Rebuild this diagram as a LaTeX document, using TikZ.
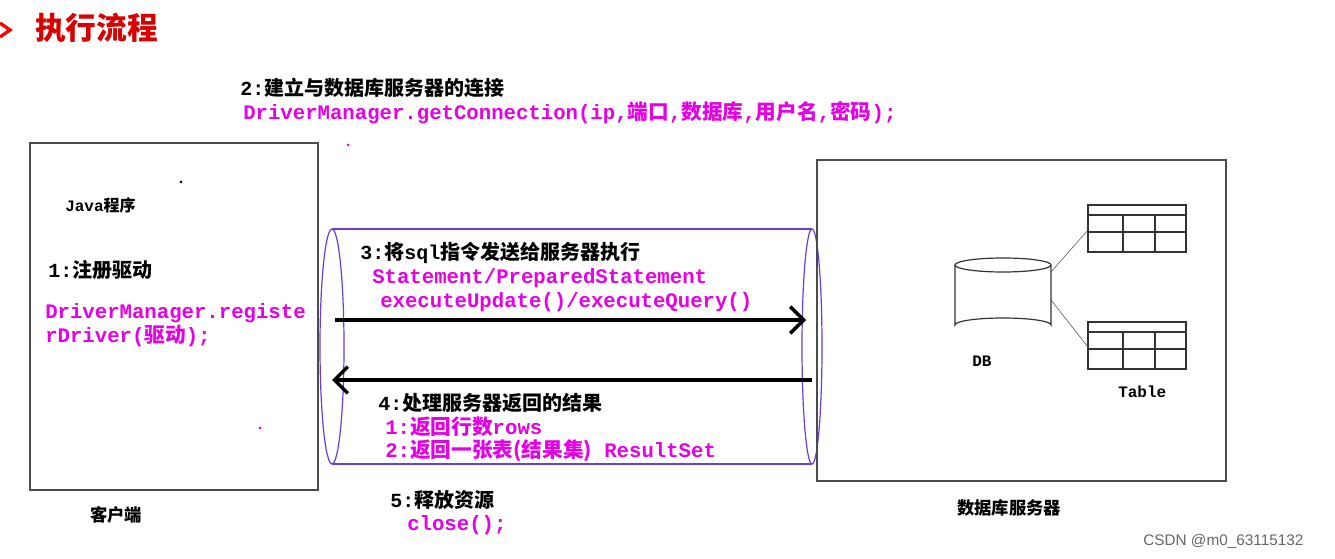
\documentclass[tikz,border=0pt]{standalone}
\usepackage{fontspec}
\setmonofont{Liberation Mono}
\setmainfont{Liberation Sans}
\newfontfamily\zh{Noto Sans CJK SC}
\usetikzlibrary{arrows.meta}
\definecolor{mag}{RGB}{230,0,230}
\definecolor{pipe}{RGB}{110,60,220}
\tikzset{
 lbl/.style={anchor=west,inner sep=0pt,font=\ttfamily\bfseries\fontsize{15}{17}\selectfont},
 code/.style={lbl,text=mag,font=\ttfamily\bfseries\fontsize{15.5}{17}\selectfont},
 box/.style={draw=black!70,line width=1pt},
 big/.style={-{Straight Barb[length=10pt,width=20pt,line width=2.6pt]},line width=3pt},
 thin/.style={draw=black!80,line width=0.9pt},
}
\begin{document}
\begin{tikzpicture}[x=0.75pt,y=-0.75pt]
\useasboundingbox[fill=white] (0,0) rectangle (1335,559);
% title
\draw[red,line width=2.5pt] (0,23) -- (10,30) -- (0,37);
\node (title) [anchor=west,inner sep=0pt,text=red!85!black,font=\zh\bfseries\fontsize{23}{26}\selectfont] at (35,28) {执行流程};
% step 2
\node (s2) [lbl] at (240,88) {2:{\zh 建立与数据库服务器的连接}};
\node (s2c) [code] at (243,113) {DriverManager.getConnection(ip,{\zh 端口},{\zh 数据库},{\zh 用户名},{\zh 密码});};
% left box
\draw[box] (30,143) rectangle (318,490);
\node (java) [lbl,font=\ttfamily\bfseries\fontsize{12}{14}\selectfont] at (65,205) {Java{\zh 程序}};
\node (s1) [lbl] at (48,270) {1:{\zh 注册驱动}};
\node (s1a) [code] at (45,313) {DriverManager.registe};
\node (s1b) [code] at (45,336) {rDriver({\zh 驱动});};
\node (client) [anchor=west,inner sep=0pt,font=\zh\bfseries\fontsize{13}{15}\selectfont] at (90,515) {客户端};
% pipe
\draw[pipe,line width=0.9pt] (332,229) -- (812,229);
\draw[pipe,line width=0.9pt] (332,464) -- (812,464);
\draw[pipe,line width=0.9pt] (332,346.5) ellipse [x radius=12,y radius=117.5];
\draw[pipe,line width=0.9pt] (812,346.5) ellipse [x radius=10,y radius=117.5];
% step 3
\node (s3) [lbl] at (360,253) {3:{\zh 将}sql{\zh 指令发送给服务器执行}};
\node (s3a) [code] at (372,278) {Statement/PreparedStatement};
\node (s3b) [code] at (380,302) {executeUpdate()/executeQuery()};
\coordinate (a1) at (335,320); \coordinate (a2) at (806,320);
\coordinate (b1) at (812,380); \coordinate (b2) at (332,380);
\draw[big] (a1) -- (a2);
\draw[big] (b1) -- (b2);
% step 4
\node (s4) [lbl] at (378,403) {4:{\zh 处理服务器返回的结果}};
\node (s4a) [code] at (385,427) {1:{\zh 返回行数}rows};
\node (s4b) [code] at (385,451) {2:{\zh 返回一张表(结果集)} ResultSet};
% step 5
\node (s5) [lbl] at (390,500) {5:{\zh 释放资源}};
\node (s5a) [code] at (407,525) {close();};
% right box
\draw[box] (817,160) rectangle (1226,481);
% DB cylinder
\draw[thin] (955,265) -- (955,325) arc[start angle=180,end angle=360,x radius=48,y radius=7] -- (1051,265);
\draw[thin] (1003,265) ellipse [x radius=48,y radius=7];
\coordinate (db1) at (1051,272); \coordinate (db2) at (1051,300);
\node (dbl) [lbl,font=\ttfamily\bfseries\fontsize{12}{14}\selectfont] at (972,361) {DB};
\foreach \t/\y in {t1/205,t2/322}{
  \draw[thin] (1088,\y) rectangle (1186,\y+47);
  \draw[thin] (1088,\y+10) -- (1186,\y+10);
  \draw[thin] (1088,\y+27) -- (1186,\y+27);
  \draw[thin] (1123,\y+10) -- (1123,\y+47);
  \draw[thin] (1155,\y+10) -- (1155,\y+47);
  \coordinate (\t) at (1088,\y+25);
}
\draw[black!70] (db1) -- (t1);
\draw[black!70] (db2) -- (t2);
\node (tbl) [lbl,font=\ttfamily\bfseries\fontsize{12}{14}\selectfont] at (1118,392) {Table};
\node (server) [anchor=west,inner sep=0pt,font=\zh\bfseries\fontsize{13}{15}\selectfont] at (957,508) {数据库服务器};
% dots
\fill[mag] (348,145) circle (1.5);
\fill (181,182) circle (1.5);
\fill[mag] (260,428) circle (1.5);
% watermark
\node (wm) [anchor=west,inner sep=0pt,text=black!60,font=\fontsize{11.5}{13}\selectfont] at (1143,541) {CSDN @m0\_63115132};
\end{tikzpicture}
\end{document}
